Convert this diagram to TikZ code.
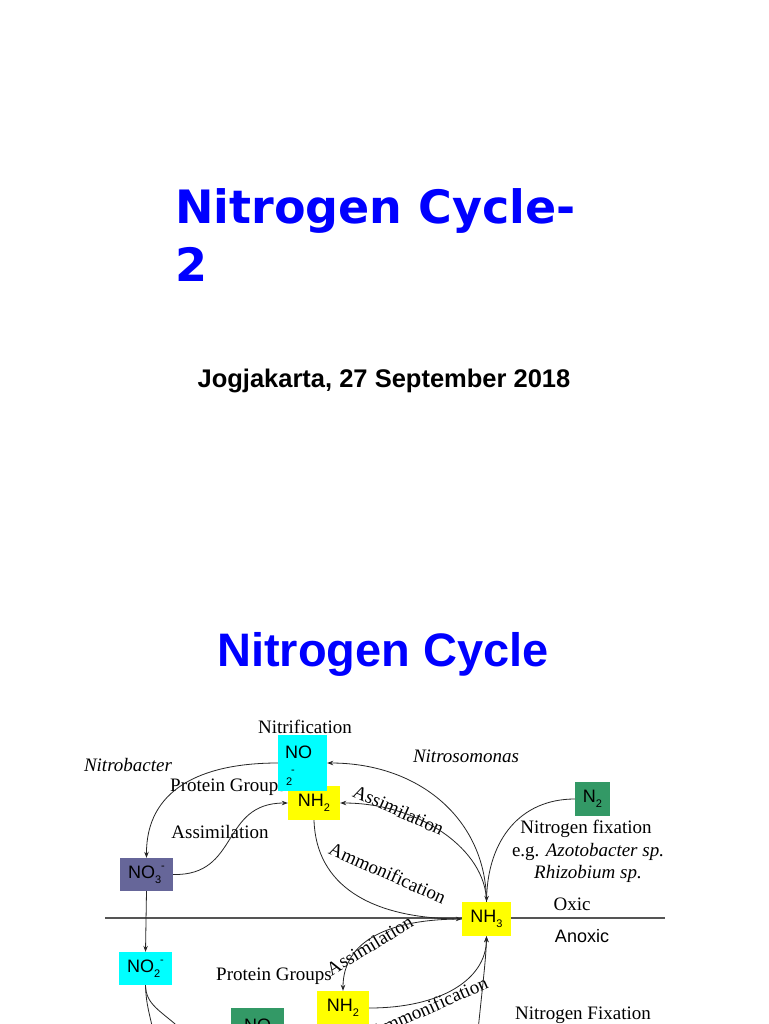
\documentclass[tikz,border=0pt]{standalone}
\usepackage{fontspec}
\setmainfont{Liberation Serif}
\setsansfont{Liberation Sans}
\newfontfamily\djv{DejaVu Sans}
\usetikzlibrary{arrows.meta}
\definecolor{ncyan}{RGB}{0,255,255}
\definecolor{nyellow}{RGB}{255,255,0}
\definecolor{npurple}{RGB}{102,102,153}
\definecolor{ngreen}{RGB}{51,153,102}
\definecolor{nblue}{RGB}{0,0,255}
\definecolor{nline}{RGB}{85,85,85}
\newcommand{\sbs}[1]{\raisebox{-0.28em}{\fontsize{11}{11}\selectfont #1}}
\newcommand{\sps}[1]{\raisebox{0.5em}{\fontsize{11}{11}\selectfont #1}}
\begin{document}
\begin{tikzpicture}[x=1pt,y=-1pt,
  chem/.style={inner sep=0pt, font=\sffamily\fontsize{18}{18}\selectfont, anchor=center},
  lbl/.style={font=\fontsize{19}{21}\selectfont, inner sep=0pt},
  conn/.style={draw=black!85, line width=0.8pt, -{Stealth[length=6pt,width=4.5pt]}},
  plain/.style={draw=black!85, line width=0.8pt},
]
\useasboundingbox (0,0) rectangle (768,1024);
\clip (0,0) rectangle (768,1024);
\fill[white] (0,0) rectangle (768,1024);

% titles
\node[font=\djv\bfseries\fontsize{46}{56}\selectfont, text=nblue, anchor=base west, inner sep=0pt] (t1) at (175,224) {Nitrogen Cycle-};
\node[font=\djv\bfseries\fontsize{46}{56}\selectfont, text=nblue, anchor=base west, inner sep=0pt] (t2) at (175,281) {2};
\node[font=\sffamily\bfseries\fontsize{25.5}{28}\selectfont, anchor=base, inner sep=0pt] (date) at (384,387) {Jogjakarta, 27 September 2018};
\node[font=\sffamily\bfseries\fontsize{47}{50}\selectfont, text=nblue, anchor=base, inner sep=0pt] (t3) at (383,666) {Nitrogen Cycle};

% oxic / anoxic line
\coordinate (hl) at (105,918);
\coordinate (hr) at (665,918);
\draw[nline, line width=1.3pt] (hl) -- (hr);

% labels
\node[lbl, anchor=base] (nitrif) at (305,733) {Nitrification};
\node[lbl, anchor=base] (nitrobacter) at (128,771) {\itshape Nitrobacter};
\node[lbl, anchor=base west] (pg1) at (170,791) {Protein Groups};
\node[lbl, anchor=base] (assim1) at (220,838) {Assimilation};
\node[lbl, anchor=base] (nitroso) at (466,762) {\itshape Nitrosomonas};
\node[lbl, anchor=base, rotate=-24] (assim2) at (396,816) {Assimilation};
\node[lbl, anchor=base, rotate=-24] (ammon1) at (385,879) {Ammonification};
\node[lbl, anchor=base] (nfix1) at (586,833) {Nitrogen fixation};
\node[lbl, anchor=base] (nfix2) at (588,856) {e.g. \itshape Azotobacter sp.};
\node[lbl, anchor=base] (nfix3) at (588,878) {\itshape Rhizobium sp.};
\node[lbl, anchor=base] (oxic) at (572,910) {Oxic};
\node[font=\sffamily\fontsize{18}{18}\selectfont, anchor=base, inner sep=0pt] (anoxic) at (582,942) {Anoxic};
\node[lbl, anchor=base] (pg2) at (274,980) {Protein Groups};
\node[lbl, anchor=base, rotate=31] (assim3) at (373,951) {Assimilation};
\node[lbl, anchor=base, rotate=24] (ammon2) at (432,1013) {Ammonification};
\node[lbl, anchor=base] (nfix4) at (583,1019) {Nitrogen Fixation};

% boxes
\node[chem, fill=nyellow, minimum width=52pt, minimum height=34pt] (nh2a) at (314,803) {NH\sbs{2}};
\node[chem, fill=ncyan, minimum width=49pt, minimum height=56pt] (no2a) at (302.5,763) {};
\node[font=\sffamily\fontsize{18}{18}\selectfont, anchor=base west, inner sep=0pt] (no2atxt) at (285,758) {NO};
\node[font=\sffamily\fontsize{11}{11}\selectfont, anchor=base west, inner sep=0pt] (no2aminus) at (291,773) {-};
\node[font=\sffamily\fontsize{11}{11}\selectfont, anchor=base west, inner sep=0pt] (no2atwo) at (286,785) {2};
\node[chem, fill=npurple, minimum width=53pt, minimum height=33pt] (no3) at (146.5,874.5) {NO\sbs{3}\sps{-}};
\node[chem, fill=ngreen, minimum width=35pt, minimum height=34pt] (n2) at (592.5,799) {N\sbs{2}};
\node[chem, fill=nyellow, minimum width=49pt, minimum height=34pt] (nh3) at (486.5,919) {NH\sbs{3}};
\node[chem, fill=ncyan, minimum width=53pt, minimum height=33pt] (no2b) at (145.5,968.5) {NO\sbs{2}\sps{-}};
\node[chem, fill=nyellow, minimum width=52pt, minimum height=34pt] (nh2b) at (343,1008) {NH\sbs{2}};
\node[chem, fill=ngreen, minimum width=53pt, minimum height=34pt] (nob) at (257.5,1025) {NO};

% connectors
\draw[conn] (no2a.west) .. controls (200,763) and (146,790) .. (no3.north);
\draw[conn] (no3.east) .. controls (240,876) and (220,803) .. (nh2a.west);
\draw[conn] (nh3.north) .. controls (486,820) and (420,763) .. (no2a.east);
\draw[conn] (nh3.north) .. controls (486,850) and (420,803) .. (nh2a.east);
\draw[conn] (n2.west) .. controls (520,799) and (488,840) .. (nh3.north);
\draw[conn] (nh2a.south) .. controls (316,885) and (370,918) .. (nh3.west);
\draw[conn] (no3.south) -- (no2b.north);
\draw[conn] (nh3.west) .. controls (390,919) and (343,940) .. (nh2b.north);
\draw[conn] (nh2b.east) .. controls (440,1008) and (486,980) .. (nh3.south);
\coordinate (bot) at (476,1050);
\draw[conn] (bot) .. controls (482,990) and (486,960) .. (nh3.south);
\coordinate (cA) at (154,1035);
\coordinate (cB) at (182,1030);
\draw[plain] (no2b.south) .. controls (146,1005) and (150,1015) .. (cA);
\draw[plain] (no2b.south) .. controls (146,1005) and (160,1010) .. (cB);
\end{tikzpicture}
\end{document}
